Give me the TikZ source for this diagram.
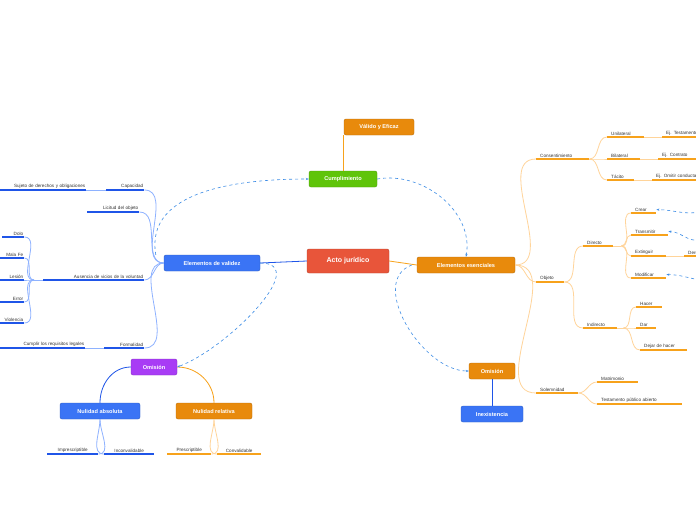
\documentclass[tikz,border=0pt]{standalone}
\usepackage{fontspec}
\setmainfont{Liberation Sans}
\usetikzlibrary{arrows.meta}
\definecolor{bl}{HTML}{1F55E8}
\definecolor{lbl}{HTML}{8EB2FF}
\definecolor{or}{HTML}{F7A21B}
\definecolor{lor}{HTML}{FFD49A}
\definecolor{dsh}{HTML}{3C8CE6}
\definecolor{mbl}{HTML}{3A74F5}
\definecolor{mor}{HTML}{E88A0C}
\definecolor{mgr}{HTML}{5FC40A}
\definecolor{mrd}{HTML}{E8553A}
\definecolor{mpu}{HTML}{A83CF5}
\tikzset{
 main/.style={rounded corners=2pt, fill=#1, draw=#1!80!black, text=white, font=\bfseries\fontsize{5.6}{7}\selectfont, minimum height=16pt, inner sep=2pt},
 lab/.style={font=\fontsize{4.6}{6}\selectfont, text=black!80, inner ysep=1.5pt, inner xsep=1pt, anchor=south west},
 cb/.style={lbl, line width=0.8pt},
 co/.style={lor, line width=0.8pt},
 dlink/.style={dsh, dashed, line width=0.6pt, -{Stealth[length=3pt]}},
}
\newcommand\ul[7]{\pgfmathsetmacro\ww{#3-#2-2}%
 \node[lab, text width=\ww pt, align=#7] (#1) at (#2,#4) {#5};
 \draw[#6, line width=1.6pt] (#1.south west) -- (#1.south east);}
\begin{document}
\begin{tikzpicture}[x=1pt,y=-1pt]
\useasboundingbox[fill=white] (0,0) rectangle (696,520);
% main nodes
\node[main=mrd, minimum width=82pt, minimum height=24pt, font=\bfseries\fontsize{7}{8}\selectfont] (AJ) at (348,261) {Acto jurídico};
\node[main=mbl, minimum width=96pt] (EV) at (212,263) {Elementos de validez};
\node[main=mor, minimum width=98pt] (EE) at (466,265) {Elementos esenciales};
\node[main=mgr, minimum width=68pt] (CU) at (343,179) {Cumplimiento};
\node[main=mor, minimum width=70pt] (VE) at (379,127) {Válido y Eficaz};
\node[main=mpu, minimum width=46pt] (OP) at (154,367) {Omisión};
\node[main=mbl, minimum width=80pt] (NA) at (100,411) {Nulidad absoluta};
\node[main=mor, minimum width=76pt] (NR) at (214,411) {Nulidad relativa};
\node[main=mor, minimum width=46pt] (OO) at (492,371) {Omisión};
\node[main=mbl, minimum width=62pt] (IN) at (492,414) {Inexistencia};
\draw[bl, line width=0.8pt] (AJ.west) -- (EV.east);
\draw[or, line width=0.8pt] (AJ.east) -- (EE.west);
\draw[or, line width=0.8pt] (CU.north) -- (CU.north|-VE.south);
\draw[bl, line width=0.8pt] (OO.south) -- (IN.north);
\draw[bl, line width=0.8pt] (OP.west) to[out=180,in=90] (NA.north);
\draw[or, line width=0.8pt] (OP.east) to[out=0,in=90] (NR.north);
% left labels
\ul{cap}{106}{144}{190}{Capacidad}{bl}{right}
\ul{sud}{-40}{86}{190}{Sujeto de derechos y obligaciones}{bl}{right}
\ul{lic}{87}{139}{212}{Licitud del objeto}{bl}{right}
\ul{aus}{43}{144}{280}{Ausencia de vicios de la voluntad}{bl}{right}
\ul{dol}{2}{24}{237}{Dolo}{bl}{right}
\ul{mal}{-10}{24}{258}{Mala Fe}{bl}{right}
\ul{les}{-10}{24}{280}{Lesión}{bl}{right}
\ul{err}{-10}{24}{302}{Error}{bl}{right}
\ul{vio}{-20}{24}{323}{Violencia}{bl}{right}
\ul{for}{104}{144}{348}{Formalidad}{bl}{right}
\ul{cum}{-10}{85}{348}{Cumplir los requisitos legales}{bl}{right}
\ul{imp}{47}{98}{454}{Imprescriptible}{bl}{center}
\ul{inc}{104}{154}{454}{Inconvalidable}{bl}{center}
\ul{pre}{167}{211}{454}{Prescriptible}{or}{center}
\ul{con}{217}{261}{454}{Convalidable}{or}{center}
\foreach \c in {cap,lic,aus,for} \draw[cb] (EV.west) to[out=180,in=0] (\c.south east);
\draw[cb] (cap.south west) -- (sud.south east);
\draw[cb] (for.south west) -- (cum.south east);
\foreach \c in {dol,mal,les,err,vio} \draw[cb] (aus.south west) ++(-9,0) to[out=180,in=0] (\c.south east);
\draw[cb] (aus.south west) -- ++(-9,0);
\draw[cb] (NA.south) to[out=270,in=0] (imp.south east);
\draw[cb] (NA.south) to[out=270,in=180] (inc.south west);
\draw[co] (NR.south) to[out=270,in=0] (pre.south east);
\draw[co] (NR.south) to[out=270,in=180] (con.south west);
% right labels
\ul{cns}{536}{589}{159}{\hspace{3pt}Consentimiento}{or}{left}
\ul{uni}{607}{644}{137}{\hspace{3pt}Unilateral}{or}{left}
\ul{ejt}{662}{730}{137}{\hspace{3pt}Ej. Testamento}{or}{left}
\ul{bil}{607}{640}{159}{\hspace{3pt}Bilateral}{or}{left}
\ul{ejc}{658}{730}{159}{\hspace{3pt}Ej. Contrato}{or}{left}
\ul{tac}{607}{634}{180}{\hspace{3pt}Tácito}{or}{left}
\ul{ejo}{652}{740}{180}{\hspace{3pt}Ej. Omitir conducta}{or}{left}
\ul{obj}{536}{564}{282}{\hspace{3pt}Objeto}{or}{left}
\ul{dir}{583}{613}{246}{\hspace{3pt}Directo}{or}{left}
\ul{cre}{631}{656}{213}{\hspace{3pt}Crear}{or}{left}
\ul{tra}{631}{668}{235}{\hspace{3pt}Transmitir}{or}{left}
\ul{ext}{631}{666}{256}{\hspace{3pt}Extinguir}{or}{left}
\ul{ded}{684}{730}{256}{\hspace{3pt}Derechos}{or}{left}
\ul{mod}{631}{666}{278}{\hspace{3pt}Modificar}{or}{left}
\ul{ind}{583}{617}{328}{\hspace{3pt}Indirecto}{or}{left}
\ul{hac}{636}{662}{307}{\hspace{3pt}Hacer}{or}{left}
\ul{dar}{636}{656}{328}{\hspace{3pt}Dar}{or}{left}
\ul{dej}{640}{687}{350}{\hspace{3pt}Dejar de hacer}{or}{left}
\ul{sol}{536}{578}{393}{\hspace{3pt}Solemnidad}{or}{left}
\ul{mat}{597}{638}{382}{\hspace{3pt}Matrimonio}{or}{left}
\ul{tes}{597}{682}{404}{\hspace{3pt}Testamento público abierto}{or}{left}
\foreach \c in {cns,obj,sol} \draw[co] (EE.east) to[out=0,in=180] (\c.south west);
\foreach \c in {uni,bil,tac} \draw[co] (cns.south east) to[out=0,in=180] (\c.south west);
\draw[co] (uni.south east) -- (ejt.south west);
\draw[co] (bil.south east) -- (ejc.south west);
\draw[co] (tac.south east) -- (ejo.south west);
\foreach \c in {dir,ind} \draw[co] (obj.south east) to[out=0,in=180] (\c.south west);
\foreach \c in {cre,tra,ext,mod} \draw[co] (dir.south east) ++(8,0) to[out=0,in=180] (\c.south west);
\draw[co] (dir.south east) -- ++(8,0);
\draw[co] (ext.south east) -- (ded.south west);
\foreach \c in {hac,dar,dej} \draw[co] (ind.south east) ++(6,0) to[out=0,in=180] (\c.south west);
\draw[co] (ind.south east) -- ++(6,0);
\foreach \c in {mat,tes} \draw[co] (sol.south east) to[out=0,in=180] (\c.south west);
% dashed links
\coordinate (r1) at (700,212);
\coordinate (r2) at (700,240);
\coordinate (r3) at (700,280);
\draw[dlink] (r1) to[out=190,in=0] (cre.east);
\draw[dlink] (r2) to[out=190,in=0] (tra.east);
\draw[dlink] (r3) to[out=170,in=0] (mod.east);
\draw[dlink] (EV.north west) ++(-8,0) to[out=100,in=180] (CU.west);
\draw[dlink] (CU.east) to[out=10,in=80] (EE.north);
\draw[dlink] (EE.west) ++(-5,0) to[out=200,in=180] (OO.west);
\draw[dlink] (EV.east) ++(0,0) to[out=0,in=20] (OP.east);
\end{tikzpicture}
\end{document}
